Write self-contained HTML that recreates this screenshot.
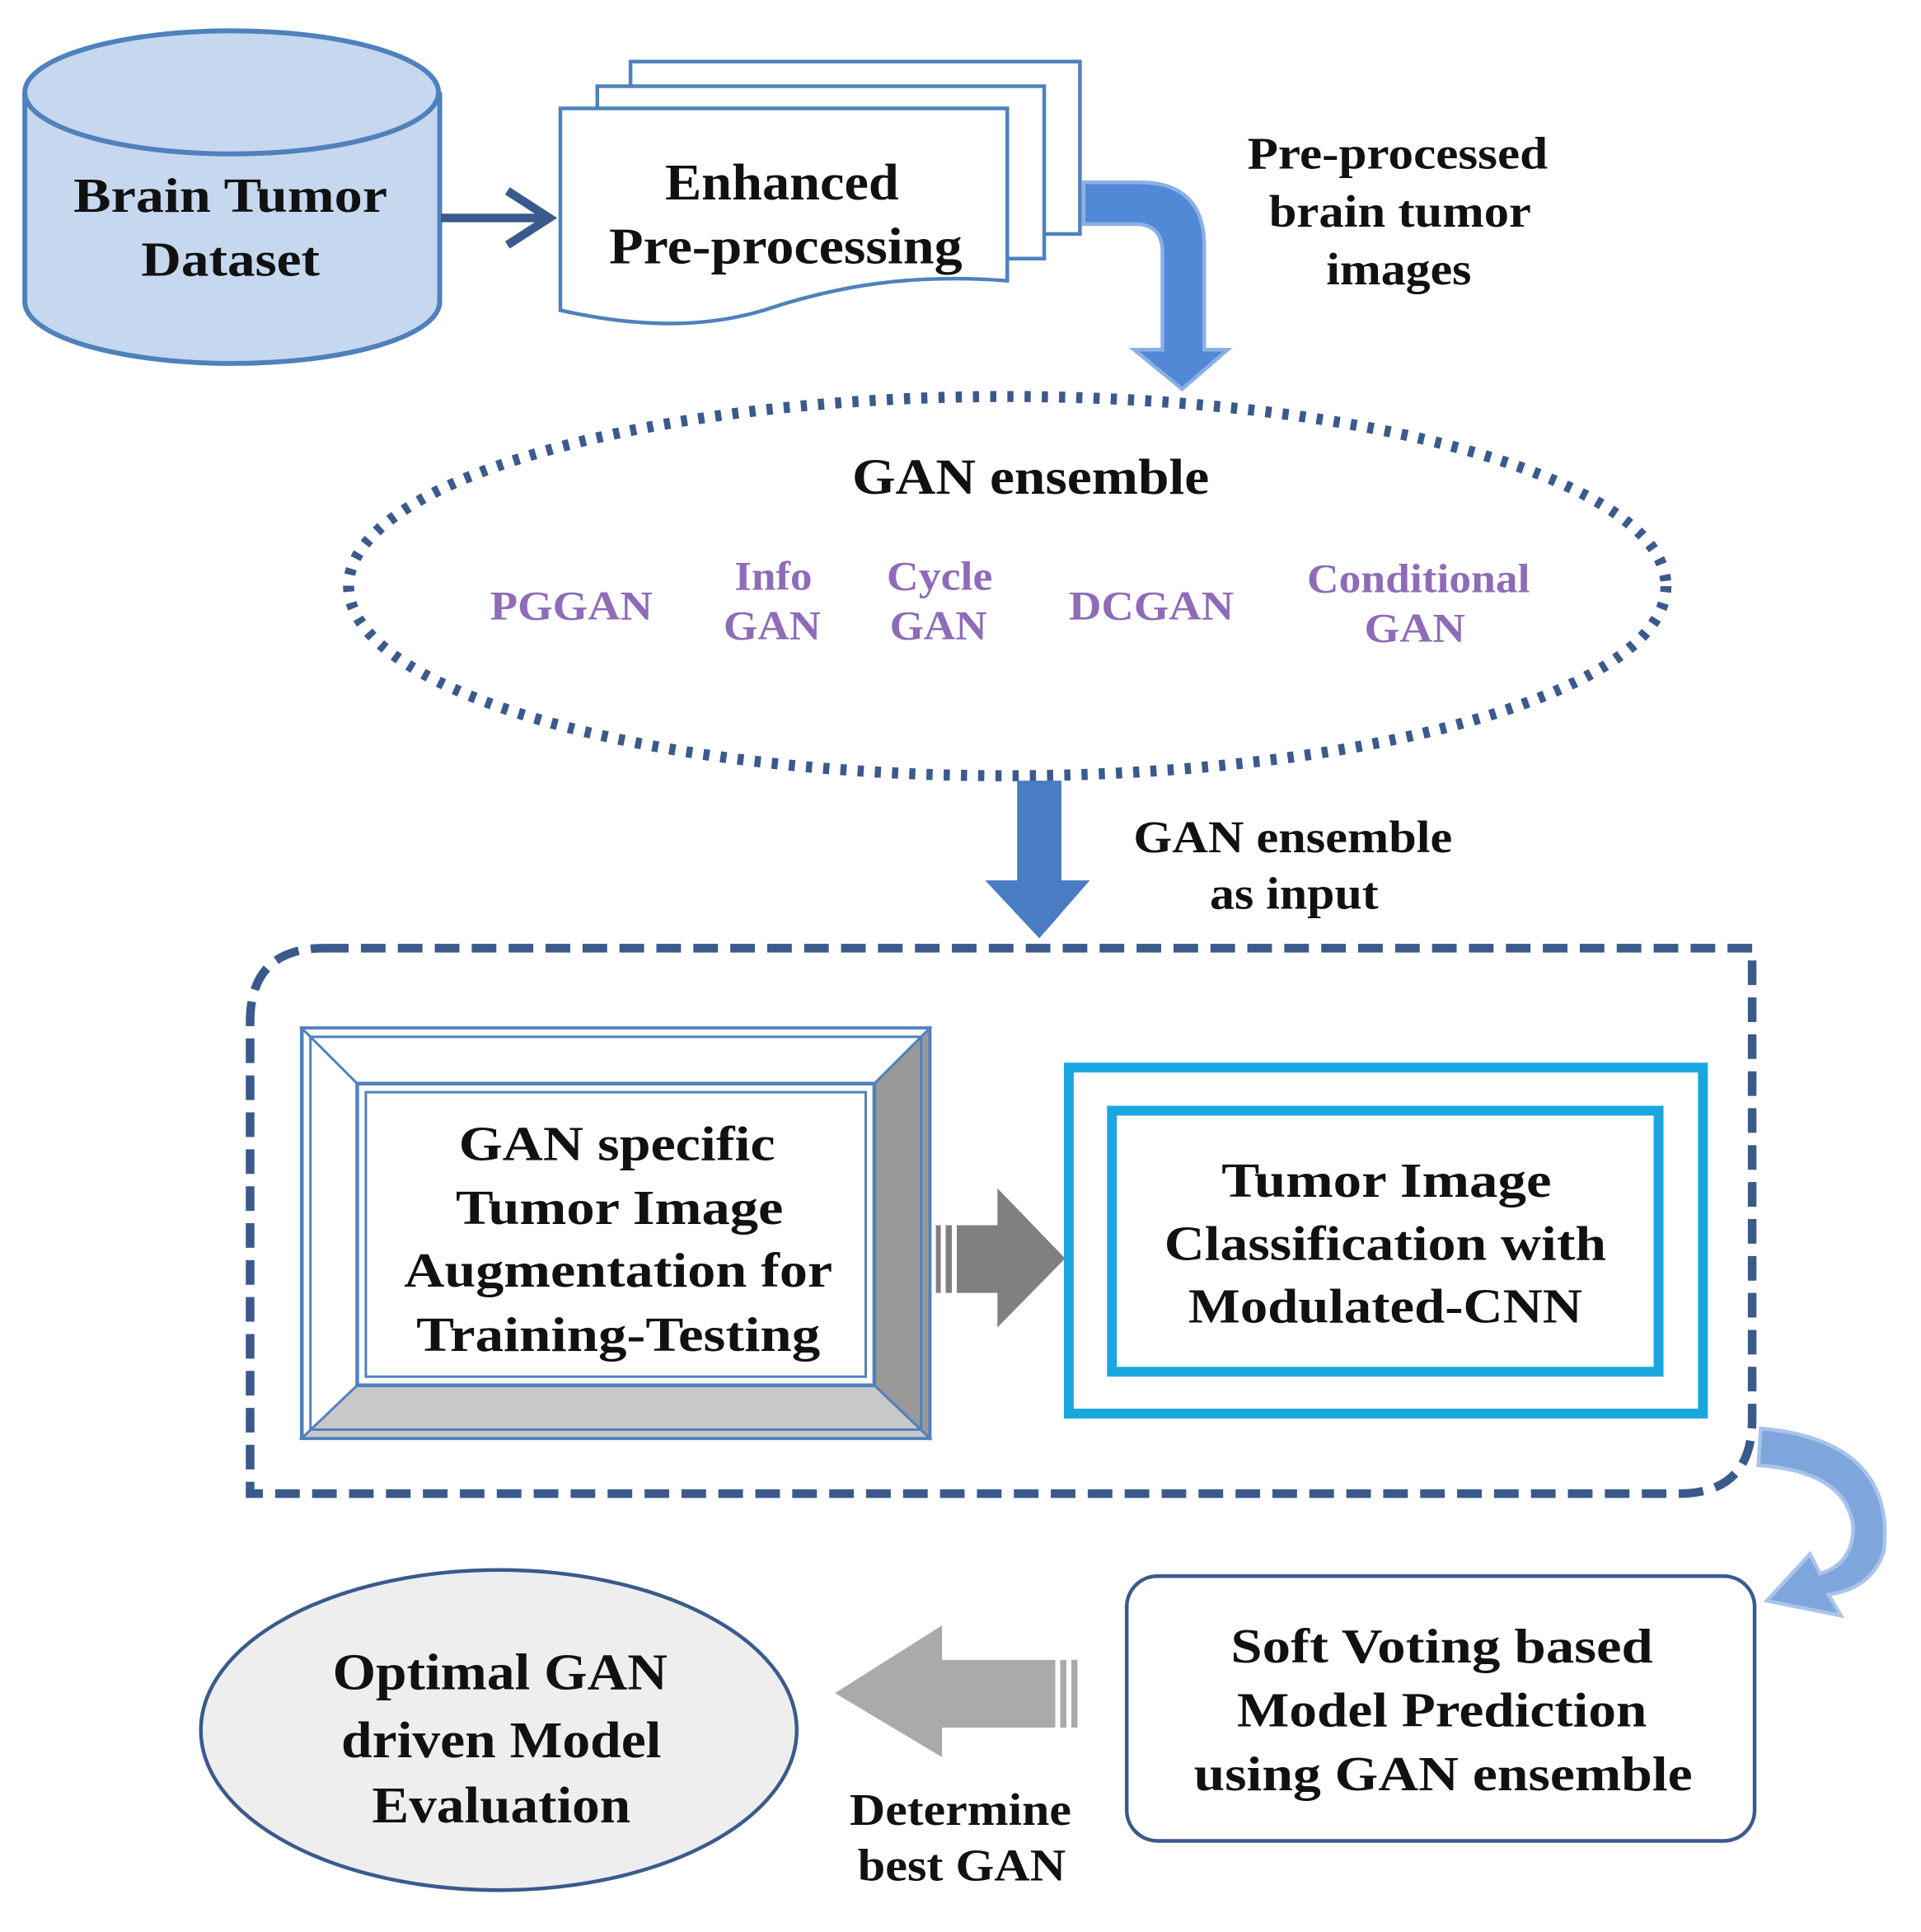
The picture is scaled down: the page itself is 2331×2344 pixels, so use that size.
<!DOCTYPE html>
<html><head><meta charset="utf-8"><style>
html,body{margin:0;padding:0;background:#fff;}
svg{display:block;}
text{font-family:"Liberation Serif",serif;font-weight:bold;text-anchor:middle;fill:#111;}
</style></head><body>
<svg width="2331" height="2344" viewBox="0 0 1560 1569" xmlns="http://www.w3.org/2000/svg">
<!-- Cylinder -->
<path d="M20,75 L20,245 A168,50 0 0 0 357,245 L357,75" fill="#c6d8ef" stroke="#4f81bd" stroke-width="4"/>
<ellipse cx="188" cy="75" rx="168" ry="50" fill="#c6d8ef" stroke="#4f81bd" stroke-width="4"/>
<text x="187" y="172" font-size="40" textLength="255" lengthAdjust="spacingAndGlyphs">Brain Tumor</text>
<text x="187" y="224" font-size="40" textLength="145" lengthAdjust="spacingAndGlyphs">Dataset</text>
<!-- arrow -->
<line x1="358" y1="177" x2="440" y2="177" stroke="#3b5a8c" stroke-width="7"/>
<polyline points="412,155 446,177 412,199" fill="none" stroke="#3b5a8c" stroke-width="7"/>
<!-- documents -->
<rect x="512" y="50" width="365" height="140" fill="#fff" stroke="#4f81bd" stroke-width="3"/>
<rect x="485" y="70" width="363" height="140" fill="#fff" stroke="#4f81bd" stroke-width="3"/>
<path d="M455,88 L818,88 L818,228 C740,222 680,232 620,252 C560,270 500,262 455,252 Z" fill="#fff" stroke="#4f81bd" stroke-width="3"/>
<text x="635" y="162" font-size="42" textLength="190" lengthAdjust="spacingAndGlyphs">Enhanced</text>
<text x="638" y="214" font-size="42" textLength="287" lengthAdjust="spacingAndGlyphs">Pre-processing</text>
<!-- bent arrow -->
<path d="M880,148 L925,148 Q978,148 978,200 L978,284 L997,284 L960,316 L921,284 L944,284 L944,205 Q944,182 922,182 L880,182 Z" fill="#5289d6" stroke="#8bb0e4" stroke-width="3"/>
<text x="1135" y="137" font-size="37" textLength="244" lengthAdjust="spacingAndGlyphs">Pre-processed</text>
<text x="1137" y="184" font-size="37" textLength="213" lengthAdjust="spacingAndGlyphs">brain tumor</text>
<text x="1136" y="231" font-size="37" textLength="118" lengthAdjust="spacingAndGlyphs">images</text>
<!-- GAN ensemble ellipse -->
<ellipse cx="818" cy="476" rx="535" ry="154" fill="none" stroke="#3b5a8c" stroke-width="9" stroke-dasharray="5 9"/>
<text x="837" y="401" font-size="41" textLength="290" lengthAdjust="spacingAndGlyphs">GAN ensemble</text>
<g style="font-size:33px">
<text x="464" y="503" style="fill:#8e6cb8" textLength="132" lengthAdjust="spacingAndGlyphs">PGGAN</text>
<text x="628" y="479" style="fill:#8e6cb8" textLength="63" lengthAdjust="spacingAndGlyphs">Info</text>
<text x="627" y="519" style="fill:#8e6cb8" textLength="79" lengthAdjust="spacingAndGlyphs">GAN</text>
<text x="763" y="479" style="fill:#8e6cb8" textLength="86" lengthAdjust="spacingAndGlyphs">Cycle</text>
<text x="762" y="519" style="fill:#8e6cb8" textLength="79" lengthAdjust="spacingAndGlyphs">GAN</text>
<text x="935" y="503" style="fill:#8e6cb8" textLength="134" lengthAdjust="spacingAndGlyphs">DCGAN</text>
<text x="1152" y="481" style="fill:#8e6cb8" textLength="181" lengthAdjust="spacingAndGlyphs">Conditional</text>
<text x="1149" y="521" style="fill:#8e6cb8" textLength="82" lengthAdjust="spacingAndGlyphs">GAN</text>
</g>
<!-- down arrow -->
<path d="M826,634 L862,634 L862,715 L885,715 L844,762 L800,715 L826,715 Z" fill="#4a7cc4"/>
<text x="1050" y="692" font-size="37" textLength="259" lengthAdjust="spacingAndGlyphs">GAN ensemble</text>
<text x="1051" y="738" font-size="37" textLength="137" lengthAdjust="spacingAndGlyphs">as input</text>
<!-- dashed container -->
<path d="M263,770 L1423,770 L1423,1153 Q1423,1213 1363,1213 L203,1213 L203,830 Q203,770 263,770 Z" fill="none" stroke="#3b5a8c" stroke-width="7" stroke-dasharray="20 10"/>
<!-- left bevel box -->
<rect x="245" y="835" width="510" height="333" fill="#fff" stroke="#4f81bd" stroke-width="3"/>
<polygon points="710,880 755,835 755,1168 710,1125" fill="#999" stroke="#4f81bd" stroke-width="2"/>
<polygon points="290,1125 710,1125 755,1168 245,1168" fill="#c8c8c8" stroke="#4f81bd" stroke-width="2"/>
<polygon points="245,835 755,835 710,880 290,880" fill="#fff" stroke="#4f81bd" stroke-width="2"/>
<rect x="252" y="842" width="496" height="319" fill="none" stroke="#4f81bd" stroke-width="2"/>
<rect x="290" y="880" width="420" height="245" fill="#fff" stroke="#4f81bd" stroke-width="3"/>
<rect x="297" y="887" width="406" height="231" fill="none" stroke="#4f81bd" stroke-width="2"/>
<text x="501" y="942" font-size="40" textLength="257" lengthAdjust="spacingAndGlyphs">GAN specific</text>
<text x="503" y="994" font-size="40" textLength="266" lengthAdjust="spacingAndGlyphs">Tumor Image</text>
<text x="502" y="1045" font-size="40" textLength="348" lengthAdjust="spacingAndGlyphs">Augmentation for</text>
<text x="502" y="1097" font-size="40" textLength="328" lengthAdjust="spacingAndGlyphs">Training-Testing</text>
<!-- gray right arrow -->
<rect x="760" y="995" width="4" height="55" fill="#808080"/>
<rect x="768" y="995" width="5" height="55" fill="#808080"/>
<path d="M777,995 L810,995 L810,965 L865,1022 L810,1078 L810,1050 L777,1050 Z" fill="#808080"/>
<!-- right box -->
<rect x="868" y="867" width="515" height="281" fill="#fff" stroke="#1aa7e0" stroke-width="8"/>
<rect x="903" y="902" width="444" height="212" fill="#fff" stroke="#1aa7e0" stroke-width="8"/>
<text x="1126" y="972" font-size="40" textLength="268" lengthAdjust="spacingAndGlyphs">Tumor Image</text>
<text x="1125" y="1023" font-size="40" textLength="359" lengthAdjust="spacingAndGlyphs">Classification with</text>
<text x="1125" y="1074" font-size="40" textLength="320" lengthAdjust="spacingAndGlyphs">Modulated-CNN</text>
<!-- curved arrow -->
<path d="M1430,1160 Q1540,1170 1530,1260 Q1520,1290 1485,1295 L1495,1312 L1435,1300 L1470,1262 L1478,1278 Q1505,1270 1505,1240 Q1500,1195 1428,1190 Z" fill="#7ea6dd" stroke="#a9c4ea" stroke-width="3"/>
<!-- soft voting box -->
<rect x="915" y="1280" width="510" height="215" rx="25" fill="#fff" stroke="#3b5a8c" stroke-width="3"/>
<text x="1171" y="1350" font-size="40" textLength="343" lengthAdjust="spacingAndGlyphs">Soft Voting based</text>
<text x="1171" y="1402" font-size="40" textLength="333" lengthAdjust="spacingAndGlyphs">Model Prediction</text>
<text x="1172" y="1454" font-size="40" textLength="405" lengthAdjust="spacingAndGlyphs">using GAN ensemble</text>
<!-- gray left arrow -->
<rect x="870" y="1348" width="5" height="55" fill="#aaa"/>
<rect x="861" y="1348" width="5" height="55" fill="#aaa"/>
<path d="M857,1348 L765,1348 L765,1320 L678,1375 L765,1427 L765,1403 L857,1403 Z" fill="#aaa"/>
<text x="780" y="1482" font-size="37" textLength="180" lengthAdjust="spacingAndGlyphs">Determine</text>
<text x="781" y="1527" font-size="37" textLength="169" lengthAdjust="spacingAndGlyphs">best GAN</text>
<!-- ellipse -->
<ellipse cx="405" cy="1405" rx="242" ry="130" fill="#eeeeee" stroke="#3b5a8c" stroke-width="3"/>
<text x="406" y="1372" font-size="42" textLength="272" lengthAdjust="spacingAndGlyphs">Optimal GAN</text>
<text x="407" y="1427" font-size="42" textLength="260" lengthAdjust="spacingAndGlyphs">driven Model</text>
<text x="407" y="1480" font-size="42" textLength="210" lengthAdjust="spacingAndGlyphs">Evaluation</text>
</svg>
</body></html>
